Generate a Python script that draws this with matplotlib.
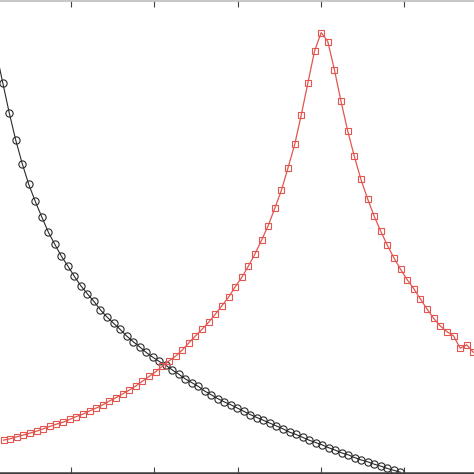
import numpy as np
import matplotlib
matplotlib.use("Agg")
import matplotlib.pyplot as plt

# Series values (y in % of axis height)
black_y = [89.2, 82.7, 76.3, 70.5, 65.5, 61.1, 57.5, 54.2, 51.0, 48.4, 45.9,
           43.8, 41.6, 39.6, 37.9, 36.3, 34.5, 33.0, 31.7, 30.4, 29.0,
           27.8, 26.7, 25.5, 24.5, 23.6, 22.8, 21.8, 20.9, 19.9, 19.1,
           18.3, 17.3, 16.5, 15.7, 15.0, 14.4, 13.7, 13.0, 12.3, 11.7,
           11.1, 10.5, 9.9, 9.3, 8.6, 8.1, 7.5, 6.9, 6.4, 5.9,
           5.3, 4.8, 4.2, 3.8, 3.2, 2.7, 2.3, 1.8, 1.4, 0.9, 0.5, 0.1]
black_x0, black_dx = 0.1013, 0.0783

red_y = [6.9, 7.2, 7.6, 8.0, 8.4, 8.8, 9.3, 9.8, 10.3, 10.7,
         11.3, 11.9, 12.4, 13.1, 13.7, 14.4, 15.2, 15.9, 16.7, 17.5,
         18.4, 19.4, 20.4, 21.4, 22.6, 23.7, 24.7, 26.0, 27.5, 29.0,
         30.4, 31.9, 33.6, 35.4, 37.2, 39.4, 41.4, 43.8, 46.4, 49.3,
         52.4, 56.1, 59.9, 64.7, 69.6, 75.9, 82.7, 89.4, 93.3, 91.4,
         85.4, 78.7, 72.5, 67.1, 62.2, 58.1, 54.4, 51.2, 48.2, 45.5,
         43.1, 40.9, 39.0, 36.8, 34.7, 32.7, 31.1, 29.9, 29.0, 26.4,
         27.1, 25.5]
red_x0, red_dx = 0.1892, 0.0795

x_ticks = [1, 2, 3, 4, 5]

black_x = black_x0 + black_dx * np.arange(len(black_y))
red_x = red_x0 + red_dx * np.arange(len(red_y))

fig = plt.figure(figsize=(4.74, 4.74), dpi=100)
ax = fig.add_axes([0.0, 1.3 / 474, 1.0, 471.7 / 474])

ax.plot(black_x, black_y, color="#2a2a2a", lw=0.8, marker="o", ms=5.2,
        mfc="none", mec="#2a2a2a", mew=0.8, markevery=slice(1, None))
ax.plot(red_x, red_y, color="#e2564f", lw=0.9, marker="s", ms=5.0,
        mfc="none", mec="#e2564f", mew=0.8)

ax.set_xlim(1 - 71 / 83.25, 1 + (474 - 71) / 83.25)
ax.set_ylim(0, 100)
ax.set_xticks(x_ticks)
ax.set_yticks([])
ax.tick_params(axis="x", direction="in", length=4.5, width=0.8,
               color="#444444", top=True, bottom=True,
               labelbottom=False, labeltop=False)
ax.spines["left"].set_visible(False)
ax.spines["right"].set_visible(False)
ax.spines["top"].set_color("#bdbdbd")
ax.spines["top"].set_linewidth(1.2)
ax.spines["bottom"].set_color("#3c3c3c")
ax.spines["bottom"].set_linewidth(1.8)

fig.savefig("out.png", dpi=100)
